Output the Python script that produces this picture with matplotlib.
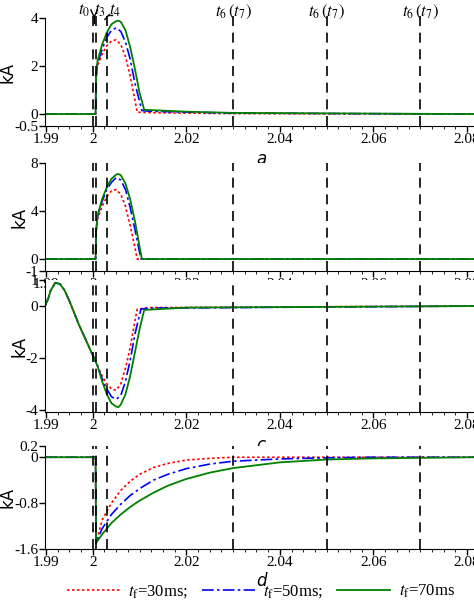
import matplotlib
matplotlib.use("Agg")
import matplotlib.pyplot as plt
from matplotlib.ticker import AutoMinorLocator

plt.rcParams['font.family'] = ['Liberation Serif', 'DejaVu Serif']
plt.rcParams['mathtext.fontset'] = 'stix'

# ---- data (time in s, current in kA) ----
ta_r = [1.9898, 2.0006, 2.0007, 2.001, 2.002, 2.003, 2.004, 2.005, 2.006, 2.007, 2.008, 2.009, 2.0095, 2.012, 2.02, 2.03, 2.0815]
ia_r = [0, 0, 1.5, 2.0, 2.5, 2.85, 3.05, 3.1, 2.9, 2.4, 1.6, 0.6, 0.08, 0.06, 0.04, 0.02, 0]
ta_b = [1.9898, 2.0006, 2.0007, 2.001, 2.002, 2.003, 2.004, 2.005, 2.006, 2.007, 2.008, 2.009, 2.0105, 2.012, 2.02, 2.03, 2.0815]
ia_b = [0, 0, 1.5, 2.1, 2.7, 3.2, 3.5, 3.6, 3.45, 3.0, 2.3, 1.3, 0.15, 0.12, 0.08, 0.04, 0]
ta_g = [1.9898, 2.0006, 2.0007, 2.001, 2.002, 2.003, 2.004, 2.005, 2.0055, 2.006, 2.007, 2.008, 2.009, 2.010, 2.011, 2.02, 2.03, 2.0815]
ia_g = [0, 0, 1.5, 2.2, 2.9, 3.4, 3.75, 3.88, 3.9, 3.85, 3.5, 2.8, 1.9, 0.9, 0.18, 0.1, 0.05, 0]

tb_r = [1.9898, 2.0006, 2.0007, 2.001, 2.002, 2.003, 2.004, 2.005, 2.006, 2.007, 2.008, 2.009, 2.0095, 2.0815]
ib_r = [0, 0, 2.2, 3.3, 4.4, 5.2, 5.7, 5.8, 5.4, 4.4, 2.8, 1.0, 0, 0]
tb_b = [1.9898, 2.0006, 2.0007, 2.001, 2.002, 2.003, 2.004, 2.005, 2.006, 2.007, 2.008, 2.009, 2.0103, 2.0815]
ib_b = [0, 0, 2.2, 3.5, 4.8, 5.8, 6.4, 6.8, 6.6, 5.8, 4.3, 2.5, 0, 0]
tb_g = [1.9898, 2.0006, 2.0007, 2.001, 2.002, 2.003, 2.004, 2.005, 2.0055, 2.006, 2.007, 2.008, 2.009, 2.0105, 2.0815]
ib_g = [0, 0, 2.2, 3.6, 5.0, 6.0, 6.7, 7.05, 7.1, 7.0, 6.3, 5.0, 3.2, 0, 0]

tc_base = [1.9898, 1.9905, 1.991, 1.992, 1.993, 1.994, 1.995, 1.996, 1.997, 1.998, 1.999, 2.0]
ic_base = [0.0, 0.3, 0.6, 0.9, 0.85, 0.6, 0.2, -0.25, -0.7, -1.1, -1.5, -1.9]
tc_r = tc_base + [2.001, 2.002, 2.003, 2.004, 2.005, 2.006, 2.007, 2.008, 2.009, 2.0095, 2.012, 2.0815]
ic_r = ic_base + [-2.3, -2.7, -3.0, -3.2, -3.25, -3.0, -2.4, -1.6, -0.6, -0.12, -0.06, 0]
tc_b = tc_base + [2.001, 2.002, 2.003, 2.004, 2.005, 2.006, 2.007, 2.008, 2.009, 2.0103, 2.012, 2.0815]
ic_b = ic_base + [-2.3, -2.8, -3.2, -3.5, -3.6, -3.45, -2.9, -2.1, -1.1, -0.12, -0.08, 0]
tc_g = tc_base + [2.001, 2.002, 2.003, 2.004, 2.005, 2.0055, 2.006, 2.007, 2.008, 2.009, 2.010, 2.011, 2.02, 2.0815]
ic_g = ic_base + [-2.3, -2.9, -3.4, -3.75, -3.88, -3.9, -3.8, -3.4, -2.7, -1.8, -0.9, -0.15, -0.06, 0]

td = [1.9898, 2.0006, 2.0007, 2.002, 2.004, 2.006, 2.008, 2.010, 2.013, 2.016, 2.020, 2.025, 2.030, 2.040, 2.050, 2.060, 2.0815]
id_r = [0, 0, -1.5, -1.1, -0.8, -0.58, -0.42, -0.3, -0.18, -0.11, -0.05, -0.02, 0, 0, 0, 0, 0]
id_b = [0, 0, -1.5, -1.25, -1.0, -0.82, -0.67, -0.55, -0.4, -0.3, -0.2, -0.12, -0.07, -0.03, -0.01, 0, 0]
id_g = [0, 0, -1.5, -1.35, -1.15, -1.0, -0.87, -0.76, -0.62, -0.5, -0.38, -0.27, -0.19, -0.09, -0.04, -0.02, 0]

vlines = [2.0, 2.0006, 2.003, 2.03, 2.05, 2.07]
xticks = [1.99, 2.0, 2.02, 2.04, 2.06, 2.08]
xticklabels = ['1.99', '2', '2.02', '2.04', '2.06', '2.08']
panels = [
    ((ta_r, ia_r), (ta_b, ia_b), (ta_g, ia_g), (-0.5, 4), [-0.5, 0, 2, 4], ['-0.5', '0', '2', '4'], 'a'),
    ((tb_r, ib_r), (tb_b, ib_b), (tb_g, ib_g), (-1, 8), [-1, 0, 4, 8], ['-1', '0', '4', '8'], 'b'),
    ((tc_r, ic_r), (tc_b, ic_b), (tc_g, ic_g), (-4.1, 1), [-4, -2, 0, 1], ['-4', '-2', '0', '1'], 'c'),
    ((td, id_r), (td, id_b), (td, id_g), (-1.6, 0.2), [-1.6, -0.8, 0, 0.2], ['-1.6', '-0.8', '0', '0.2'], 'd'),
]
boxes = [(0.095, 0.793, 0.905, 0.177), (0.095, 0.555, 0.905, 0.177),
         (0.095, 0.323, 0.905, 0.217), (0.095, 0.099, 0.905, 0.169)]

fig = plt.figure(figsize=(4.74, 6.09), dpi=100)
for box, (r, b, g, ylim, yt, ytl, lab) in zip(boxes, panels):
    ax = fig.add_axes(box)
    ax.plot(*r, color='red', ls=(0, (1.5, 1.5)), lw=1.2, label='$t_\\mathrm{f}$=30ms;')
    ax.plot(*b, color='blue', ls=(0, (7, 2, 1.5, 2)), lw=1.2, label='$t_\\mathrm{f}$=50ms;')
    ax.plot(*g, color='green', ls='-', lw=1.3, label='$t_\\mathrm{f}$=70ms')
    for v in vlines:
        ax.axvline(v, color='black', ls=(0, (6, 4)), lw=1.2, clip_on=False,
                   ymax=1.08 if lab == 'a' else 1.0)
    ax.set_xlim(1.9898, 2.0815)
    ax.set_ylim(*ylim)
    ax.set_xticks(xticks)
    ax.set_xticklabels(xticklabels, fontsize=11)
    ax.set_yticks(yt)
    ax.set_yticklabels(ytl, fontsize=11)
    ax.xaxis.set_minor_locator(AutoMinorLocator(4))
    ax.tick_params(direction='out', length=4, width=1, pad=1)
    ax.tick_params(which='minor', length=2)
    ax.spines['top'].set_visible(False)
    ax.spines['right'].set_visible(False)
    ax.set_ylabel('kA', fontsize=12, family='DejaVu Sans', labelpad=-2)
    ax.annotate(lab, xy=(2.036, 0), xycoords=('data', 'axes fraction'), xytext=(0, -17),
                textcoords='offset points', fontsize=12, style='italic',
                family='DejaVu Sans', ha='center', va='top')
    if lab == 'a':
        top = 1 - 3 / 609
        for xv in [2.03, 2.05, 2.07]:
            xf = ax.transData.transform((xv, 0))[0] / fig.bbox.width
            fig.text(xf, top, '$t_6\\,(t_7)$', fontsize=12, ha='center', va='top')
        for xv, s, ha in [(1.9994, '$t_0$', 'right'), (2.0015, '$t_3$', 'center'), (2.0047, '$t_4$', 'center')]:
            xf = ax.transData.transform((xv, 0))[0] / fig.bbox.width
            fig.text(xf, top, s, fontsize=12, ha=ha, va='top')
        ax.plot([1.9996, 2.0003, 2.001], [4.35, 4.05, 4.35], color='black', lw=1, clip_on=False)
        ax.plot([2.0003, 2.0003], [4.05, 3.8], color='black', lw=1, clip_on=False)
        ax.plot([2.0026, 2.0035], [3.95, 4.15], color='black', lw=1, clip_on=False)
        ax.plot([2.0035, 2.0041], [4.15, 4.15], color='black', lw=1, clip_on=False)
    if lab == 'd':
        h, l = ax.get_legend_handles_labels()
        fig.legend(h, l, loc='lower center', bbox_to_anchor=(0.55, -0.01), ncol=3, frameon=False,
                   fontsize=12, handlelength=3.2, columnspacing=0.8, handletextpad=0.5)

fig.savefig('out.png', dpi=100)
